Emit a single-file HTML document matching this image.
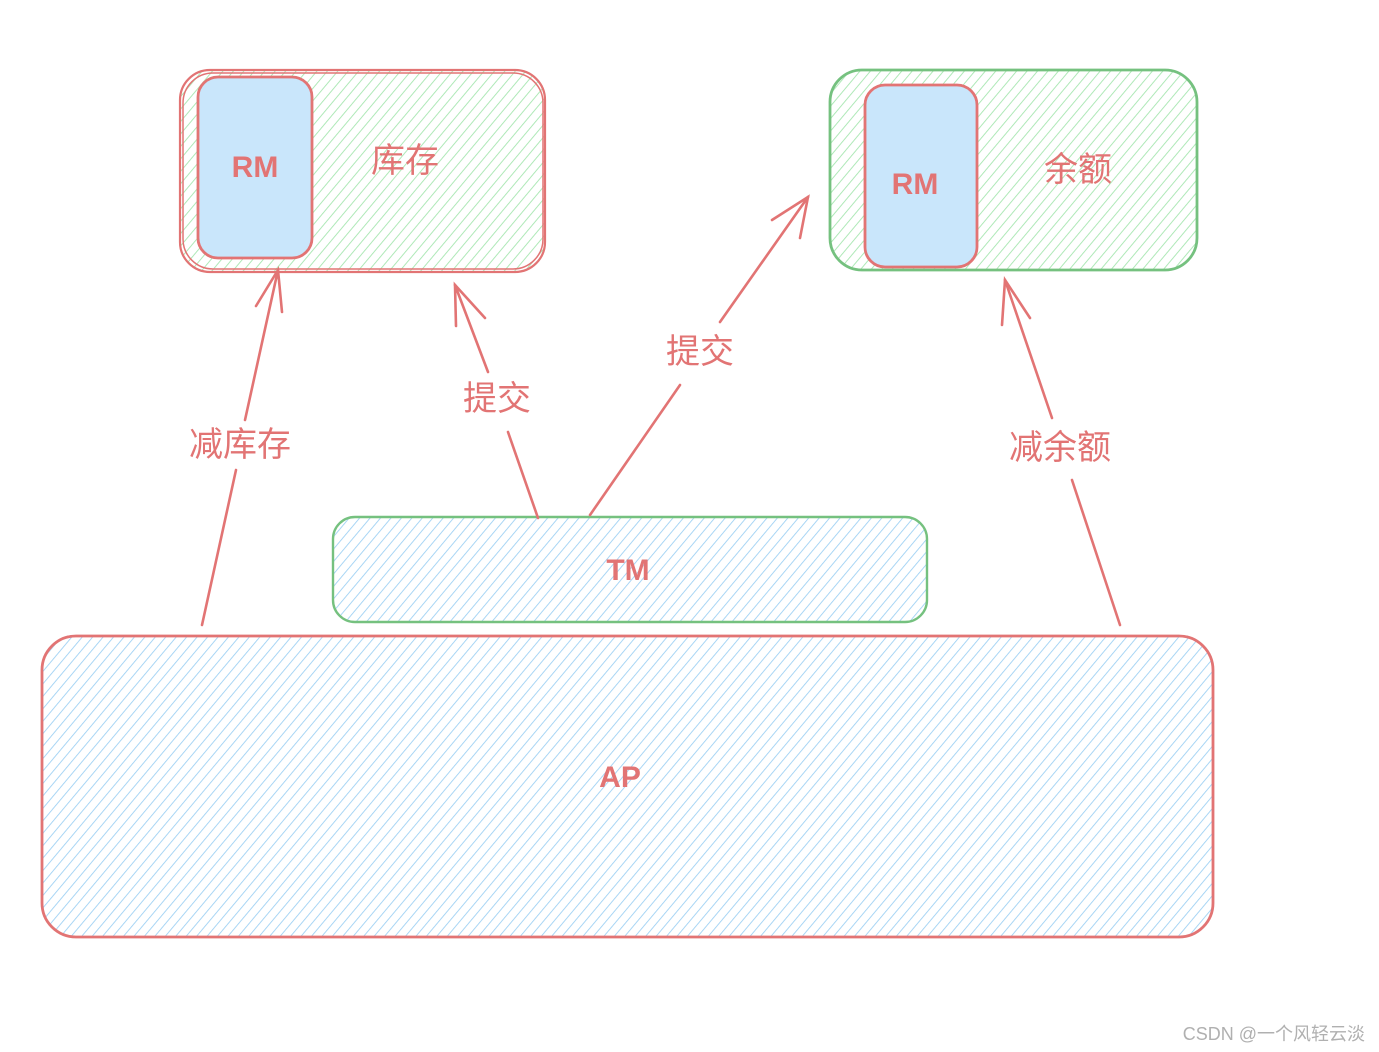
<!DOCTYPE html>
<html><head><meta charset="utf-8"><style>
html,body{margin:0;padding:0;background:#fff;width:1379px;height:1052px;overflow:hidden}
svg{display:block}
text{font-family:"Liberation Sans","Noto Sans CJK SC",sans-serif;fill:#e27474}
</style></head><body>
<svg width="1379" height="1052" viewBox="0 0 1379 1052" xmlns="http://www.w3.org/2000/svg">
<defs>
<pattern id="hg" width="8" height="8" patternUnits="userSpaceOnUse" patternTransform="rotate(40)">
<line x1="0" y1="0" x2="0" y2="8" stroke="#a6e6b0" stroke-width="1.8"/></pattern>
<pattern id="hb" width="8" height="8" patternUnits="userSpaceOnUse" patternTransform="rotate(40)">
<line x1="0" y1="0" x2="0" y2="8" stroke="#9acff3" stroke-width="1.7"/></pattern>
</defs>
<g fill="none" stroke-linecap="round">
<rect x="180" y="70" width="365" height="202" rx="30" fill="url(#hg)" stroke="#e27474" stroke-width="2.2"/>
<rect x="183" y="73" width="360" height="196" rx="30" stroke="#e27474" stroke-width="1.5"/>
<rect x="198" y="77" width="114" height="181" rx="20" fill="#c9e6fb" stroke="#e27474" stroke-width="2.8"/>
<rect x="830" y="70" width="367" height="200" rx="32" fill="url(#hg)" stroke="#75c17f" stroke-width="2.8"/>
<rect x="865" y="85" width="112" height="182" rx="20" fill="#c9e6fb" stroke="#e27474" stroke-width="2.8"/>
<rect x="333" y="517" width="594" height="105" rx="22" fill="url(#hb)" stroke="#75c17f" stroke-width="2.4"/>
<rect x="42" y="636" width="1171" height="301" rx="34" fill="url(#hb)" stroke="#e27474" stroke-width="2.8"/>
<g stroke="#e27474" stroke-width="2.6">
<line x1="202" y1="625" x2="236" y2="470"/><line x1="245" y1="420" x2="278" y2="270"/>
<polyline points="256,306 278,270 282,312"/>
<line x1="538" y1="518" x2="508" y2="432"/><line x1="488" y1="372" x2="455" y2="285"/>
<polyline points="456,326 455,285 485,318"/>
<line x1="590" y1="515" x2="680" y2="385"/><line x1="720" y1="322" x2="808" y2="197"/>
<polyline points="772,220 808,197 800,238"/>
<line x1="1120" y1="625" x2="1072" y2="480"/><line x1="1052" y1="418" x2="1005" y2="280"/>
<polyline points="1002,325 1005,280 1030,318"/>
</g>
</g>
<text x="255" y="177" font-size="30" font-weight="bold" text-anchor="middle">RM</text>
<text x="405" y="172" font-size="34" text-anchor="middle">库存</text>
<text x="915" y="194" font-size="30" font-weight="bold" text-anchor="middle">RM</text>
<text x="1078" y="181" font-size="34" text-anchor="middle">余额</text>
<text x="628" y="580" font-size="30" font-weight="bold" text-anchor="middle">TM</text>
<text x="620" y="787" font-size="30" font-weight="bold" text-anchor="middle">AP</text>
<text x="240" y="456" font-size="34" text-anchor="middle">减库存</text>
<text x="497" y="410" font-size="34" text-anchor="middle">提交</text>
<text x="700" y="363" font-size="34" text-anchor="middle">提交</text>
<text x="1060" y="459" font-size="34" text-anchor="middle">减余额</text>
<text x="1365" y="1040" font-size="18" text-anchor="end" style="fill:#b0b0b0">CSDN @一个风轻云淡</text>
</svg>
</body></html>
